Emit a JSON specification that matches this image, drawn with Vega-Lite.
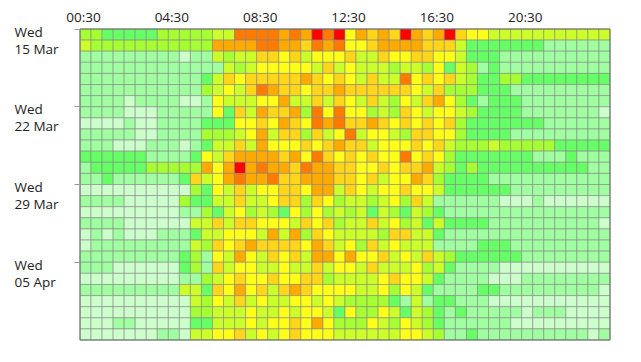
{"$schema":"https://vega.github.io/schema/vega-lite/v6.json","width":530,"height":311,"autosize":"none","padding":{"left":80,"top":29,"right":31,"bottom":22},"background":"white","config":{"font":"Open Sans","view":{"stroke":null}},"layer":[{"data":{"values":[
{"d":0,"t":0,"v":3},{"d":0,"t":1,"v":3},{"d":0,"t":2,"v":2},{"d":0,"t":3,"v":2},{"d":0,"t":4,"v":2},{"d":0,"t":5,"v":2},{"d":0,"t":6,"v":2},{"d":0,"t":7,"v":3},{"d":0,"t":8,"v":3},{"d":0,"t":9,"v":3},{"d":0,"t":10,"v":3},{"d":0,"t":11,"v":3},{"d":0,"t":12,"v":4},{"d":0,"t":13,"v":4},{"d":0,"t":14,"v":8},{"d":0,"t":15,"v":8},{"d":0,"t":16,"v":8},{"d":0,"t":17,"v":8},{"d":0,"t":18,"v":7},{"d":0,"t":19,"v":8},{"d":0,"t":20,"v":7},{"d":0,"t":21,"v":9},{"d":0,"t":22,"v":8},{"d":0,"t":23,"v":9},{"d":0,"t":24,"v":5},{"d":0,"t":25,"v":7},{"d":0,"t":26,"v":6},{"d":0,"t":27,"v":7},{"d":0,"t":28,"v":6},{"d":0,"t":29,"v":9},{"d":0,"t":30,"v":7},{"d":0,"t":31,"v":6},{"d":0,"t":32,"v":7},{"d":0,"t":33,"v":9},{"d":0,"t":34,"v":6},{"d":0,"t":35,"v":5},{"d":0,"t":36,"v":5},{"d":0,"t":37,"v":4},{"d":0,"t":38,"v":4},{"d":0,"t":39,"v":4},{"d":0,"t":40,"v":4},{"d":0,"t":41,"v":4},{"d":0,"t":42,"v":4},{"d":0,"t":43,"v":4},{"d":0,"t":44,"v":4},{"d":0,"t":45,"v":4},{"d":0,"t":46,"v":4},{"d":0,"t":47,"v":4},
{"d":1,"t":0,"v":4},{"d":1,"t":1,"v":3},{"d":1,"t":2,"v":3},{"d":1,"t":3,"v":3},{"d":1,"t":4,"v":3},{"d":1,"t":5,"v":3},{"d":1,"t":6,"v":3},{"d":1,"t":7,"v":3},{"d":1,"t":8,"v":3},{"d":1,"t":9,"v":3},{"d":1,"t":10,"v":3},{"d":1,"t":11,"v":3},{"d":1,"t":12,"v":7},{"d":1,"t":13,"v":7},{"d":1,"t":14,"v":7},{"d":1,"t":15,"v":7},{"d":1,"t":16,"v":8},{"d":1,"t":17,"v":8},{"d":1,"t":18,"v":7},{"d":1,"t":19,"v":7},{"d":1,"t":20,"v":6},{"d":1,"t":21,"v":8},{"d":1,"t":22,"v":7},{"d":1,"t":23,"v":8},{"d":1,"t":24,"v":5},{"d":1,"t":25,"v":5},{"d":1,"t":26,"v":6},{"d":1,"t":27,"v":7},{"d":1,"t":28,"v":7},{"d":1,"t":29,"v":7},{"d":1,"t":30,"v":7},{"d":1,"t":31,"v":6},{"d":1,"t":32,"v":6},{"d":1,"t":33,"v":6},{"d":1,"t":34,"v":4},{"d":1,"t":35,"v":2},{"d":1,"t":36,"v":2},{"d":1,"t":37,"v":2},{"d":1,"t":38,"v":2},{"d":1,"t":39,"v":2},{"d":1,"t":40,"v":2},{"d":1,"t":41,"v":2},{"d":1,"t":42,"v":1},{"d":1,"t":43,"v":1},{"d":1,"t":44,"v":1},{"d":1,"t":45,"v":1},{"d":1,"t":46,"v":1},{"d":1,"t":47,"v":1},
{"d":2,"t":0,"v":1},{"d":2,"t":1,"v":1},{"d":2,"t":2,"v":1},{"d":2,"t":3,"v":1},{"d":2,"t":4,"v":1},{"d":2,"t":5,"v":1},{"d":2,"t":6,"v":1},{"d":2,"t":7,"v":1},{"d":2,"t":8,"v":1},{"d":2,"t":9,"v":0},{"d":2,"t":10,"v":1},{"d":2,"t":11,"v":1},{"d":2,"t":12,"v":4},{"d":2,"t":13,"v":3},{"d":2,"t":14,"v":4},{"d":2,"t":15,"v":4},{"d":2,"t":16,"v":6},{"d":2,"t":17,"v":6},{"d":2,"t":18,"v":5},{"d":2,"t":19,"v":6},{"d":2,"t":20,"v":4},{"d":2,"t":21,"v":5},{"d":2,"t":22,"v":5},{"d":2,"t":23,"v":5},{"d":2,"t":24,"v":6},{"d":2,"t":25,"v":4},{"d":2,"t":26,"v":4},{"d":2,"t":27,"v":6},{"d":2,"t":28,"v":5},{"d":2,"t":29,"v":5},{"d":2,"t":30,"v":6},{"d":2,"t":31,"v":6},{"d":2,"t":32,"v":5},{"d":2,"t":33,"v":5},{"d":2,"t":34,"v":4},{"d":2,"t":35,"v":2},{"d":2,"t":36,"v":2},{"d":2,"t":37,"v":2},{"d":2,"t":38,"v":1},{"d":2,"t":39,"v":1},{"d":2,"t":40,"v":1},{"d":2,"t":41,"v":1},{"d":2,"t":42,"v":1},{"d":2,"t":43,"v":1},{"d":2,"t":44,"v":1},{"d":2,"t":45,"v":1},{"d":2,"t":46,"v":1},{"d":2,"t":47,"v":1},
{"d":3,"t":0,"v":1},{"d":3,"t":1,"v":1},{"d":3,"t":2,"v":1},{"d":3,"t":3,"v":1},{"d":3,"t":4,"v":1},{"d":3,"t":5,"v":1},{"d":3,"t":6,"v":1},{"d":3,"t":7,"v":1},{"d":3,"t":8,"v":1},{"d":3,"t":9,"v":1},{"d":3,"t":10,"v":1},{"d":3,"t":11,"v":1},{"d":3,"t":12,"v":1},{"d":3,"t":13,"v":4},{"d":3,"t":14,"v":3},{"d":3,"t":15,"v":4},{"d":3,"t":16,"v":5},{"d":3,"t":17,"v":5},{"d":3,"t":18,"v":5},{"d":3,"t":19,"v":5},{"d":3,"t":20,"v":5},{"d":3,"t":21,"v":4},{"d":3,"t":22,"v":6},{"d":3,"t":23,"v":4},{"d":3,"t":24,"v":5},{"d":3,"t":25,"v":4},{"d":3,"t":26,"v":4},{"d":3,"t":27,"v":4},{"d":3,"t":28,"v":3},{"d":3,"t":29,"v":4},{"d":3,"t":30,"v":4},{"d":3,"t":31,"v":3},{"d":3,"t":32,"v":5},{"d":3,"t":33,"v":2},{"d":3,"t":34,"v":4},{"d":3,"t":35,"v":3},{"d":3,"t":36,"v":1},{"d":3,"t":37,"v":2},{"d":3,"t":38,"v":1},{"d":3,"t":39,"v":1},{"d":3,"t":40,"v":1},{"d":3,"t":41,"v":1},{"d":3,"t":42,"v":1},{"d":3,"t":43,"v":1},{"d":3,"t":44,"v":1},{"d":3,"t":45,"v":1},{"d":3,"t":46,"v":1},{"d":3,"t":47,"v":1},
{"d":4,"t":0,"v":1},{"d":4,"t":1,"v":1},{"d":4,"t":2,"v":1},{"d":4,"t":3,"v":1},{"d":4,"t":4,"v":1},{"d":4,"t":5,"v":1},{"d":4,"t":6,"v":1},{"d":4,"t":7,"v":1},{"d":4,"t":8,"v":1},{"d":4,"t":9,"v":1},{"d":4,"t":10,"v":1},{"d":4,"t":11,"v":2},{"d":4,"t":12,"v":4},{"d":4,"t":13,"v":6},{"d":4,"t":14,"v":5},{"d":4,"t":15,"v":6},{"d":4,"t":16,"v":6},{"d":4,"t":17,"v":6},{"d":4,"t":18,"v":6},{"d":4,"t":19,"v":6},{"d":4,"t":20,"v":7},{"d":4,"t":21,"v":6},{"d":4,"t":22,"v":5},{"d":4,"t":23,"v":6},{"d":4,"t":24,"v":5},{"d":4,"t":25,"v":4},{"d":4,"t":26,"v":6},{"d":4,"t":27,"v":4},{"d":4,"t":28,"v":4},{"d":4,"t":29,"v":8},{"d":4,"t":30,"v":5},{"d":4,"t":31,"v":6},{"d":4,"t":32,"v":5},{"d":4,"t":33,"v":6},{"d":4,"t":34,"v":4},{"d":4,"t":35,"v":3},{"d":4,"t":36,"v":2},{"d":4,"t":37,"v":2},{"d":4,"t":38,"v":3},{"d":4,"t":39,"v":3},{"d":4,"t":40,"v":2},{"d":4,"t":41,"v":2},{"d":4,"t":42,"v":2},{"d":4,"t":43,"v":2},{"d":4,"t":44,"v":2},{"d":4,"t":45,"v":2},{"d":4,"t":46,"v":2},{"d":4,"t":47,"v":2},
{"d":5,"t":0,"v":1},{"d":5,"t":1,"v":1},{"d":5,"t":2,"v":1},{"d":5,"t":3,"v":1},{"d":5,"t":4,"v":1},{"d":5,"t":5,"v":1},{"d":5,"t":6,"v":1},{"d":5,"t":7,"v":1},{"d":5,"t":8,"v":1},{"d":5,"t":9,"v":1},{"d":5,"t":10,"v":1},{"d":5,"t":11,"v":3},{"d":5,"t":12,"v":4},{"d":5,"t":13,"v":5},{"d":5,"t":14,"v":4},{"d":5,"t":15,"v":6},{"d":5,"t":16,"v":8},{"d":5,"t":17,"v":7},{"d":5,"t":18,"v":6},{"d":5,"t":19,"v":6},{"d":5,"t":20,"v":5},{"d":5,"t":21,"v":6},{"d":5,"t":22,"v":6},{"d":5,"t":23,"v":7},{"d":5,"t":24,"v":6},{"d":5,"t":25,"v":6},{"d":5,"t":26,"v":6},{"d":5,"t":27,"v":6},{"d":5,"t":28,"v":6},{"d":5,"t":29,"v":6},{"d":5,"t":30,"v":5},{"d":5,"t":31,"v":4},{"d":5,"t":32,"v":6},{"d":5,"t":33,"v":3},{"d":5,"t":34,"v":3},{"d":5,"t":35,"v":3},{"d":5,"t":36,"v":2},{"d":5,"t":37,"v":2},{"d":5,"t":38,"v":2},{"d":5,"t":39,"v":1},{"d":5,"t":40,"v":1},{"d":5,"t":41,"v":1},{"d":5,"t":42,"v":1},{"d":5,"t":43,"v":1},{"d":5,"t":44,"v":1},{"d":5,"t":45,"v":1},{"d":5,"t":46,"v":1},{"d":5,"t":47,"v":1},
{"d":6,"t":0,"v":1},{"d":6,"t":1,"v":1},{"d":6,"t":2,"v":1},{"d":6,"t":3,"v":1},{"d":6,"t":4,"v":0},{"d":6,"t":5,"v":1},{"d":6,"t":6,"v":1},{"d":6,"t":7,"v":1},{"d":6,"t":8,"v":1},{"d":6,"t":9,"v":0},{"d":6,"t":10,"v":0},{"d":6,"t":11,"v":1},{"d":6,"t":12,"v":5},{"d":6,"t":13,"v":4},{"d":6,"t":14,"v":4},{"d":6,"t":15,"v":4},{"d":6,"t":16,"v":5},{"d":6,"t":17,"v":5},{"d":6,"t":18,"v":7},{"d":6,"t":19,"v":4},{"d":6,"t":20,"v":4},{"d":6,"t":21,"v":6},{"d":6,"t":22,"v":4},{"d":6,"t":23,"v":6},{"d":6,"t":24,"v":5},{"d":6,"t":25,"v":4},{"d":6,"t":26,"v":6},{"d":6,"t":27,"v":4},{"d":6,"t":28,"v":3},{"d":6,"t":29,"v":5},{"d":6,"t":30,"v":4},{"d":6,"t":31,"v":6},{"d":6,"t":32,"v":7},{"d":6,"t":33,"v":5},{"d":6,"t":34,"v":3},{"d":6,"t":35,"v":2},{"d":6,"t":36,"v":1},{"d":6,"t":37,"v":2},{"d":6,"t":38,"v":2},{"d":6,"t":39,"v":2},{"d":6,"t":40,"v":1},{"d":6,"t":41,"v":1},{"d":6,"t":42,"v":1},{"d":6,"t":43,"v":1},{"d":6,"t":44,"v":1},{"d":6,"t":45,"v":1},{"d":6,"t":46,"v":1},{"d":6,"t":47,"v":1},
{"d":7,"t":0,"v":1},{"d":7,"t":1,"v":1},{"d":7,"t":2,"v":1},{"d":7,"t":3,"v":1},{"d":7,"t":4,"v":0},{"d":7,"t":5,"v":0},{"d":7,"t":6,"v":0},{"d":7,"t":7,"v":1},{"d":7,"t":8,"v":1},{"d":7,"t":9,"v":1},{"d":7,"t":10,"v":1},{"d":7,"t":11,"v":1},{"d":7,"t":12,"v":5},{"d":7,"t":13,"v":2},{"d":7,"t":14,"v":6},{"d":7,"t":15,"v":4},{"d":7,"t":16,"v":7},{"d":7,"t":17,"v":6},{"d":7,"t":18,"v":6},{"d":7,"t":19,"v":7},{"d":7,"t":20,"v":3},{"d":7,"t":21,"v":8},{"d":7,"t":22,"v":5},{"d":7,"t":23,"v":8},{"d":7,"t":24,"v":5},{"d":7,"t":25,"v":5},{"d":7,"t":26,"v":3},{"d":7,"t":27,"v":4},{"d":7,"t":28,"v":3},{"d":7,"t":29,"v":6},{"d":7,"t":30,"v":5},{"d":7,"t":31,"v":4},{"d":7,"t":32,"v":5},{"d":7,"t":33,"v":5},{"d":7,"t":34,"v":4},{"d":7,"t":35,"v":3},{"d":7,"t":36,"v":2},{"d":7,"t":37,"v":2},{"d":7,"t":38,"v":2},{"d":7,"t":39,"v":2},{"d":7,"t":40,"v":1},{"d":7,"t":41,"v":1},{"d":7,"t":42,"v":1},{"d":7,"t":43,"v":1},{"d":7,"t":44,"v":1},{"d":7,"t":45,"v":1},{"d":7,"t":46,"v":1},{"d":7,"t":47,"v":0},
{"d":8,"t":0,"v":0},{"d":8,"t":1,"v":0},{"d":8,"t":2,"v":0},{"d":8,"t":3,"v":0},{"d":8,"t":4,"v":1},{"d":8,"t":5,"v":0},{"d":8,"t":6,"v":0},{"d":8,"t":7,"v":1},{"d":8,"t":8,"v":1},{"d":8,"t":9,"v":1},{"d":8,"t":10,"v":1},{"d":8,"t":11,"v":2},{"d":8,"t":12,"v":2},{"d":8,"t":13,"v":2},{"d":8,"t":14,"v":5},{"d":8,"t":15,"v":5},{"d":8,"t":16,"v":6},{"d":8,"t":17,"v":5},{"d":8,"t":18,"v":7},{"d":8,"t":19,"v":6},{"d":8,"t":20,"v":5},{"d":8,"t":21,"v":8},{"d":8,"t":22,"v":7},{"d":8,"t":23,"v":8},{"d":8,"t":24,"v":6},{"d":8,"t":25,"v":6},{"d":8,"t":26,"v":7},{"d":8,"t":27,"v":6},{"d":8,"t":28,"v":5},{"d":8,"t":29,"v":6},{"d":8,"t":30,"v":5},{"d":8,"t":31,"v":6},{"d":8,"t":32,"v":5},{"d":8,"t":33,"v":6},{"d":8,"t":34,"v":3},{"d":8,"t":35,"v":2},{"d":8,"t":36,"v":2},{"d":8,"t":37,"v":2},{"d":8,"t":38,"v":2},{"d":8,"t":39,"v":2},{"d":8,"t":40,"v":2},{"d":8,"t":41,"v":2},{"d":8,"t":42,"v":1},{"d":8,"t":43,"v":1},{"d":8,"t":44,"v":1},{"d":8,"t":45,"v":1},{"d":8,"t":46,"v":1},{"d":8,"t":47,"v":1},
{"d":9,"t":0,"v":1},{"d":9,"t":1,"v":1},{"d":9,"t":2,"v":1},{"d":9,"t":3,"v":1},{"d":9,"t":4,"v":1},{"d":9,"t":5,"v":0},{"d":9,"t":6,"v":0},{"d":9,"t":7,"v":1},{"d":9,"t":8,"v":1},{"d":9,"t":9,"v":1},{"d":9,"t":10,"v":1},{"d":9,"t":11,"v":3},{"d":9,"t":12,"v":3},{"d":9,"t":13,"v":3},{"d":9,"t":14,"v":4},{"d":9,"t":15,"v":5},{"d":9,"t":16,"v":7},{"d":9,"t":17,"v":4},{"d":9,"t":18,"v":6},{"d":9,"t":19,"v":6},{"d":9,"t":20,"v":3},{"d":9,"t":21,"v":6},{"d":9,"t":22,"v":4},{"d":9,"t":23,"v":5},{"d":9,"t":24,"v":8},{"d":9,"t":25,"v":4},{"d":9,"t":26,"v":5},{"d":9,"t":27,"v":5},{"d":9,"t":28,"v":4},{"d":9,"t":29,"v":3},{"d":9,"t":30,"v":6},{"d":9,"t":31,"v":6},{"d":9,"t":32,"v":5},{"d":9,"t":33,"v":5},{"d":9,"t":34,"v":3},{"d":9,"t":35,"v":2},{"d":9,"t":36,"v":2},{"d":9,"t":37,"v":2},{"d":9,"t":38,"v":2},{"d":9,"t":39,"v":1},{"d":9,"t":40,"v":1},{"d":9,"t":41,"v":1},{"d":9,"t":42,"v":1},{"d":9,"t":43,"v":1},{"d":9,"t":44,"v":1},{"d":9,"t":45,"v":1},{"d":9,"t":46,"v":1},{"d":9,"t":47,"v":1},
{"d":10,"t":0,"v":1},{"d":10,"t":1,"v":1},{"d":10,"t":2,"v":1},{"d":10,"t":3,"v":0},{"d":10,"t":4,"v":0},{"d":10,"t":5,"v":0},{"d":10,"t":6,"v":1},{"d":10,"t":7,"v":1},{"d":10,"t":8,"v":1},{"d":10,"t":9,"v":0},{"d":10,"t":10,"v":1},{"d":10,"t":11,"v":2},{"d":10,"t":12,"v":4},{"d":10,"t":13,"v":4},{"d":10,"t":14,"v":6},{"d":10,"t":15,"v":4},{"d":10,"t":16,"v":7},{"d":10,"t":17,"v":5},{"d":10,"t":18,"v":5},{"d":10,"t":19,"v":5},{"d":10,"t":20,"v":6},{"d":10,"t":21,"v":5},{"d":10,"t":22,"v":6},{"d":10,"t":23,"v":7},{"d":10,"t":24,"v":6},{"d":10,"t":25,"v":6},{"d":10,"t":26,"v":4},{"d":10,"t":27,"v":5},{"d":10,"t":28,"v":5},{"d":10,"t":29,"v":5},{"d":10,"t":30,"v":6},{"d":10,"t":31,"v":5},{"d":10,"t":32,"v":6},{"d":10,"t":33,"v":4},{"d":10,"t":34,"v":3},{"d":10,"t":35,"v":3},{"d":10,"t":36,"v":3},{"d":10,"t":37,"v":4},{"d":10,"t":38,"v":3},{"d":10,"t":39,"v":3},{"d":10,"t":40,"v":3},{"d":10,"t":41,"v":3},{"d":10,"t":42,"v":3},{"d":10,"t":43,"v":2},{"d":10,"t":44,"v":2},{"d":10,"t":45,"v":2},{"d":10,"t":46,"v":2},{"d":10,"t":47,"v":2},
{"d":11,"t":0,"v":2},{"d":11,"t":1,"v":2},{"d":11,"t":2,"v":2},{"d":11,"t":3,"v":2},{"d":11,"t":4,"v":2},{"d":11,"t":5,"v":2},{"d":11,"t":6,"v":1},{"d":11,"t":7,"v":1},{"d":11,"t":8,"v":1},{"d":11,"t":9,"v":1},{"d":11,"t":10,"v":2},{"d":11,"t":11,"v":5},{"d":11,"t":12,"v":4},{"d":11,"t":13,"v":6},{"d":11,"t":14,"v":7},{"d":11,"t":15,"v":7},{"d":11,"t":16,"v":7},{"d":11,"t":17,"v":7},{"d":11,"t":18,"v":6},{"d":11,"t":19,"v":7},{"d":11,"t":20,"v":5},{"d":11,"t":21,"v":8},{"d":11,"t":22,"v":6},{"d":11,"t":23,"v":5},{"d":11,"t":24,"v":6},{"d":11,"t":25,"v":5},{"d":11,"t":26,"v":6},{"d":11,"t":27,"v":5},{"d":11,"t":28,"v":5},{"d":11,"t":29,"v":8},{"d":11,"t":30,"v":5},{"d":11,"t":31,"v":6},{"d":11,"t":32,"v":5},{"d":11,"t":33,"v":3},{"d":11,"t":34,"v":2},{"d":11,"t":35,"v":2},{"d":11,"t":36,"v":2},{"d":11,"t":37,"v":2},{"d":11,"t":38,"v":2},{"d":11,"t":39,"v":2},{"d":11,"t":40,"v":2},{"d":11,"t":41,"v":1},{"d":11,"t":42,"v":1},{"d":11,"t":43,"v":1},{"d":11,"t":44,"v":2},{"d":11,"t":45,"v":1},{"d":11,"t":46,"v":1},{"d":11,"t":47,"v":1},
{"d":12,"t":0,"v":1},{"d":12,"t":1,"v":2},{"d":12,"t":2,"v":2},{"d":12,"t":3,"v":2},{"d":12,"t":4,"v":2},{"d":12,"t":5,"v":2},{"d":12,"t":6,"v":3},{"d":12,"t":7,"v":3},{"d":12,"t":8,"v":3},{"d":12,"t":9,"v":3},{"d":12,"t":10,"v":3},{"d":12,"t":11,"v":7},{"d":12,"t":12,"v":5},{"d":12,"t":13,"v":7},{"d":12,"t":14,"v":9},{"d":12,"t":15,"v":7},{"d":12,"t":16,"v":8},{"d":12,"t":17,"v":7},{"d":12,"t":18,"v":7},{"d":12,"t":19,"v":6},{"d":12,"t":20,"v":8},{"d":12,"t":21,"v":7},{"d":12,"t":22,"v":7},{"d":12,"t":23,"v":6},{"d":12,"t":24,"v":6},{"d":12,"t":25,"v":5},{"d":12,"t":26,"v":5},{"d":12,"t":27,"v":6},{"d":12,"t":28,"v":5},{"d":12,"t":29,"v":6},{"d":12,"t":30,"v":6},{"d":12,"t":31,"v":7},{"d":12,"t":32,"v":4},{"d":12,"t":33,"v":3},{"d":12,"t":34,"v":2},{"d":12,"t":35,"v":3},{"d":12,"t":36,"v":2},{"d":12,"t":37,"v":2},{"d":12,"t":38,"v":2},{"d":12,"t":39,"v":2},{"d":12,"t":40,"v":2},{"d":12,"t":41,"v":2},{"d":12,"t":42,"v":2},{"d":12,"t":43,"v":2},{"d":12,"t":44,"v":2},{"d":12,"t":45,"v":2},{"d":12,"t":46,"v":1},{"d":12,"t":47,"v":1},
{"d":13,"t":0,"v":1},{"d":13,"t":1,"v":1},{"d":13,"t":2,"v":2},{"d":13,"t":3,"v":1},{"d":13,"t":4,"v":1},{"d":13,"t":5,"v":1},{"d":13,"t":6,"v":1},{"d":13,"t":7,"v":1},{"d":13,"t":8,"v":1},{"d":13,"t":9,"v":2},{"d":13,"t":10,"v":6},{"d":13,"t":11,"v":4},{"d":13,"t":12,"v":5},{"d":13,"t":13,"v":7},{"d":13,"t":14,"v":8},{"d":13,"t":15,"v":7},{"d":13,"t":16,"v":7},{"d":13,"t":17,"v":8},{"d":13,"t":18,"v":6},{"d":13,"t":19,"v":6},{"d":13,"t":20,"v":7},{"d":13,"t":21,"v":7},{"d":13,"t":22,"v":7},{"d":13,"t":23,"v":6},{"d":13,"t":24,"v":6},{"d":13,"t":25,"v":5},{"d":13,"t":26,"v":6},{"d":13,"t":27,"v":4},{"d":13,"t":28,"v":5},{"d":13,"t":29,"v":5},{"d":13,"t":30,"v":7},{"d":13,"t":31,"v":6},{"d":13,"t":32,"v":3},{"d":13,"t":33,"v":2},{"d":13,"t":34,"v":2},{"d":13,"t":35,"v":2},{"d":13,"t":36,"v":2},{"d":13,"t":37,"v":1},{"d":13,"t":38,"v":1},{"d":13,"t":39,"v":1},{"d":13,"t":40,"v":1},{"d":13,"t":41,"v":1},{"d":13,"t":42,"v":1},{"d":13,"t":43,"v":1},{"d":13,"t":44,"v":1},{"d":13,"t":45,"v":1},{"d":13,"t":46,"v":1},{"d":13,"t":47,"v":1},
{"d":14,"t":0,"v":0},{"d":14,"t":1,"v":0},{"d":14,"t":2,"v":0},{"d":14,"t":3,"v":0},{"d":14,"t":4,"v":0},{"d":14,"t":5,"v":0},{"d":14,"t":6,"v":0},{"d":14,"t":7,"v":0},{"d":14,"t":8,"v":0},{"d":14,"t":9,"v":0},{"d":14,"t":10,"v":3},{"d":14,"t":11,"v":2},{"d":14,"t":12,"v":5},{"d":14,"t":13,"v":4},{"d":14,"t":14,"v":6},{"d":14,"t":15,"v":4},{"d":14,"t":16,"v":5},{"d":14,"t":17,"v":5},{"d":14,"t":18,"v":6},{"d":14,"t":19,"v":6},{"d":14,"t":20,"v":5},{"d":14,"t":21,"v":7},{"d":14,"t":22,"v":7},{"d":14,"t":23,"v":4},{"d":14,"t":24,"v":6},{"d":14,"t":25,"v":5},{"d":14,"t":26,"v":4},{"d":14,"t":27,"v":5},{"d":14,"t":28,"v":5},{"d":14,"t":29,"v":6},{"d":14,"t":30,"v":5},{"d":14,"t":31,"v":5},{"d":14,"t":32,"v":4},{"d":14,"t":33,"v":2},{"d":14,"t":34,"v":2},{"d":14,"t":35,"v":2},{"d":14,"t":36,"v":2},{"d":14,"t":37,"v":2},{"d":14,"t":38,"v":2},{"d":14,"t":39,"v":1},{"d":14,"t":40,"v":1},{"d":14,"t":41,"v":1},{"d":14,"t":42,"v":1},{"d":14,"t":43,"v":1},{"d":14,"t":44,"v":1},{"d":14,"t":45,"v":1},{"d":14,"t":46,"v":1},{"d":14,"t":47,"v":1},
{"d":15,"t":0,"v":1},{"d":15,"t":1,"v":1},{"d":15,"t":2,"v":1},{"d":15,"t":3,"v":1},{"d":15,"t":4,"v":0},{"d":15,"t":5,"v":0},{"d":15,"t":6,"v":0},{"d":15,"t":7,"v":0},{"d":15,"t":8,"v":0},{"d":15,"t":9,"v":3},{"d":15,"t":10,"v":2},{"d":15,"t":11,"v":2},{"d":15,"t":12,"v":4},{"d":15,"t":13,"v":4},{"d":15,"t":14,"v":6},{"d":15,"t":15,"v":4},{"d":15,"t":16,"v":4},{"d":15,"t":17,"v":5},{"d":15,"t":18,"v":6},{"d":15,"t":19,"v":6},{"d":15,"t":20,"v":3},{"d":15,"t":21,"v":6},{"d":15,"t":22,"v":5},{"d":15,"t":23,"v":3},{"d":15,"t":24,"v":4},{"d":15,"t":25,"v":4},{"d":15,"t":26,"v":3},{"d":15,"t":27,"v":4},{"d":15,"t":28,"v":5},{"d":15,"t":29,"v":3},{"d":15,"t":30,"v":6},{"d":15,"t":31,"v":4},{"d":15,"t":32,"v":1},{"d":15,"t":33,"v":1},{"d":15,"t":34,"v":1},{"d":15,"t":35,"v":1},{"d":15,"t":36,"v":1},{"d":15,"t":37,"v":1},{"d":15,"t":38,"v":0},{"d":15,"t":39,"v":0},{"d":15,"t":40,"v":0},{"d":15,"t":41,"v":1},{"d":15,"t":42,"v":0},{"d":15,"t":43,"v":0},{"d":15,"t":44,"v":0},{"d":15,"t":45,"v":0},{"d":15,"t":46,"v":0},{"d":15,"t":47,"v":0},
{"d":16,"t":0,"v":0},{"d":16,"t":1,"v":0},{"d":16,"t":2,"v":0},{"d":16,"t":3,"v":0},{"d":16,"t":4,"v":0},{"d":16,"t":5,"v":0},{"d":16,"t":6,"v":0},{"d":16,"t":7,"v":0},{"d":16,"t":8,"v":0},{"d":16,"t":9,"v":1},{"d":16,"t":10,"v":1},{"d":16,"t":11,"v":3},{"d":16,"t":12,"v":2},{"d":16,"t":13,"v":4},{"d":16,"t":14,"v":5},{"d":16,"t":15,"v":3},{"d":16,"t":16,"v":4},{"d":16,"t":17,"v":3},{"d":16,"t":18,"v":2},{"d":16,"t":19,"v":5},{"d":16,"t":20,"v":3},{"d":16,"t":21,"v":5},{"d":16,"t":22,"v":3},{"d":16,"t":23,"v":4},{"d":16,"t":24,"v":3},{"d":16,"t":25,"v":4},{"d":16,"t":26,"v":2},{"d":16,"t":27,"v":4},{"d":16,"t":28,"v":3},{"d":16,"t":29,"v":2},{"d":16,"t":30,"v":4},{"d":16,"t":31,"v":3},{"d":16,"t":32,"v":2},{"d":16,"t":33,"v":1},{"d":16,"t":34,"v":1},{"d":16,"t":35,"v":1},{"d":16,"t":36,"v":1},{"d":16,"t":37,"v":1},{"d":16,"t":38,"v":1},{"d":16,"t":39,"v":1},{"d":16,"t":40,"v":1},{"d":16,"t":41,"v":1},{"d":16,"t":42,"v":1},{"d":16,"t":43,"v":1},{"d":16,"t":44,"v":1},{"d":16,"t":45,"v":1},{"d":16,"t":46,"v":1},{"d":16,"t":47,"v":1},
{"d":17,"t":0,"v":1},{"d":17,"t":1,"v":1},{"d":17,"t":2,"v":1},{"d":17,"t":3,"v":1},{"d":17,"t":4,"v":0},{"d":17,"t":5,"v":0},{"d":17,"t":6,"v":0},{"d":17,"t":7,"v":0},{"d":17,"t":8,"v":0},{"d":17,"t":9,"v":0},{"d":17,"t":10,"v":4},{"d":17,"t":11,"v":4},{"d":17,"t":12,"v":6},{"d":17,"t":13,"v":4},{"d":17,"t":14,"v":6},{"d":17,"t":15,"v":6},{"d":17,"t":16,"v":5},{"d":17,"t":17,"v":5},{"d":17,"t":18,"v":5},{"d":17,"t":19,"v":4},{"d":17,"t":20,"v":6},{"d":17,"t":21,"v":5},{"d":17,"t":22,"v":6},{"d":17,"t":23,"v":3},{"d":17,"t":24,"v":4},{"d":17,"t":25,"v":4},{"d":17,"t":26,"v":6},{"d":17,"t":27,"v":4},{"d":17,"t":28,"v":5},{"d":17,"t":29,"v":3},{"d":17,"t":30,"v":4},{"d":17,"t":31,"v":2},{"d":17,"t":32,"v":4},{"d":17,"t":33,"v":2},{"d":17,"t":34,"v":2},{"d":17,"t":35,"v":2},{"d":17,"t":36,"v":2},{"d":17,"t":37,"v":1},{"d":17,"t":38,"v":1},{"d":17,"t":39,"v":1},{"d":17,"t":40,"v":1},{"d":17,"t":41,"v":1},{"d":17,"t":42,"v":1},{"d":17,"t":43,"v":1},{"d":17,"t":44,"v":1},{"d":17,"t":45,"v":1},{"d":17,"t":46,"v":1},{"d":17,"t":47,"v":0},
{"d":18,"t":0,"v":0},{"d":18,"t":1,"v":1},{"d":18,"t":2,"v":0},{"d":18,"t":3,"v":1},{"d":18,"t":4,"v":0},{"d":18,"t":5,"v":0},{"d":18,"t":6,"v":0},{"d":18,"t":7,"v":1},{"d":18,"t":8,"v":1},{"d":18,"t":9,"v":1},{"d":18,"t":10,"v":2},{"d":18,"t":11,"v":4},{"d":18,"t":12,"v":4},{"d":18,"t":13,"v":5},{"d":18,"t":14,"v":5},{"d":18,"t":15,"v":5},{"d":18,"t":16,"v":4},{"d":18,"t":17,"v":7},{"d":18,"t":18,"v":4},{"d":18,"t":19,"v":7},{"d":18,"t":20,"v":3},{"d":18,"t":21,"v":6},{"d":18,"t":22,"v":5},{"d":18,"t":23,"v":4},{"d":18,"t":24,"v":4},{"d":18,"t":25,"v":4},{"d":18,"t":26,"v":4},{"d":18,"t":27,"v":3},{"d":18,"t":28,"v":6},{"d":18,"t":29,"v":6},{"d":18,"t":30,"v":4},{"d":18,"t":31,"v":4},{"d":18,"t":32,"v":2},{"d":18,"t":33,"v":1},{"d":18,"t":34,"v":1},{"d":18,"t":35,"v":1},{"d":18,"t":36,"v":1},{"d":18,"t":37,"v":1},{"d":18,"t":38,"v":1},{"d":18,"t":39,"v":1},{"d":18,"t":40,"v":1},{"d":18,"t":41,"v":1},{"d":18,"t":42,"v":1},{"d":18,"t":43,"v":1},{"d":18,"t":44,"v":1},{"d":18,"t":45,"v":1},{"d":18,"t":46,"v":1},{"d":18,"t":47,"v":1},
{"d":19,"t":0,"v":0},{"d":19,"t":1,"v":1},{"d":19,"t":2,"v":1},{"d":19,"t":3,"v":1},{"d":19,"t":4,"v":1},{"d":19,"t":5,"v":1},{"d":19,"t":6,"v":1},{"d":19,"t":7,"v":1},{"d":19,"t":8,"v":1},{"d":19,"t":9,"v":1},{"d":19,"t":10,"v":4},{"d":19,"t":11,"v":3},{"d":19,"t":12,"v":6},{"d":19,"t":13,"v":5},{"d":19,"t":14,"v":6},{"d":19,"t":15,"v":7},{"d":19,"t":16,"v":6},{"d":19,"t":17,"v":6},{"d":19,"t":18,"v":6},{"d":19,"t":19,"v":6},{"d":19,"t":20,"v":5},{"d":19,"t":21,"v":7},{"d":19,"t":22,"v":6},{"d":19,"t":23,"v":4},{"d":19,"t":24,"v":5},{"d":19,"t":25,"v":3},{"d":19,"t":26,"v":6},{"d":19,"t":27,"v":4},{"d":19,"t":28,"v":5},{"d":19,"t":29,"v":4},{"d":19,"t":30,"v":4},{"d":19,"t":31,"v":4},{"d":19,"t":32,"v":1},{"d":19,"t":33,"v":1},{"d":19,"t":34,"v":1},{"d":19,"t":35,"v":1},{"d":19,"t":36,"v":2},{"d":19,"t":37,"v":2},{"d":19,"t":38,"v":2},{"d":19,"t":39,"v":1},{"d":19,"t":40,"v":1},{"d":19,"t":41,"v":1},{"d":19,"t":42,"v":1},{"d":19,"t":43,"v":1},{"d":19,"t":44,"v":1},{"d":19,"t":45,"v":1},{"d":19,"t":46,"v":1},{"d":19,"t":47,"v":1},
{"d":20,"t":0,"v":1},{"d":20,"t":1,"v":1},{"d":20,"t":2,"v":1},{"d":20,"t":3,"v":1},{"d":20,"t":4,"v":1},{"d":20,"t":5,"v":1},{"d":20,"t":6,"v":1},{"d":20,"t":7,"v":1},{"d":20,"t":8,"v":1},{"d":20,"t":9,"v":2},{"d":20,"t":10,"v":3},{"d":20,"t":11,"v":1},{"d":20,"t":12,"v":5},{"d":20,"t":13,"v":4},{"d":20,"t":14,"v":7},{"d":20,"t":15,"v":5},{"d":20,"t":16,"v":4},{"d":20,"t":17,"v":6},{"d":20,"t":18,"v":5},{"d":20,"t":19,"v":6},{"d":20,"t":20,"v":4},{"d":20,"t":21,"v":7},{"d":20,"t":22,"v":7},{"d":20,"t":23,"v":5},{"d":20,"t":24,"v":7},{"d":20,"t":25,"v":5},{"d":20,"t":26,"v":5},{"d":20,"t":27,"v":6},{"d":20,"t":28,"v":4},{"d":20,"t":29,"v":5},{"d":20,"t":30,"v":4},{"d":20,"t":31,"v":6},{"d":20,"t":32,"v":4},{"d":20,"t":33,"v":3},{"d":20,"t":34,"v":2},{"d":20,"t":35,"v":2},{"d":20,"t":36,"v":2},{"d":20,"t":37,"v":2},{"d":20,"t":38,"v":2},{"d":20,"t":39,"v":2},{"d":20,"t":40,"v":1},{"d":20,"t":41,"v":1},{"d":20,"t":42,"v":1},{"d":20,"t":43,"v":1},{"d":20,"t":44,"v":1},{"d":20,"t":45,"v":1},{"d":20,"t":46,"v":1},{"d":20,"t":47,"v":1},
{"d":21,"t":0,"v":1},{"d":21,"t":1,"v":1},{"d":21,"t":2,"v":1},{"d":21,"t":3,"v":0},{"d":21,"t":4,"v":0},{"d":21,"t":5,"v":0},{"d":21,"t":6,"v":0},{"d":21,"t":7,"v":0},{"d":21,"t":8,"v":0},{"d":21,"t":9,"v":2},{"d":21,"t":10,"v":3},{"d":21,"t":11,"v":1},{"d":21,"t":12,"v":6},{"d":21,"t":13,"v":4},{"d":21,"t":14,"v":5},{"d":21,"t":15,"v":5},{"d":21,"t":16,"v":4},{"d":21,"t":17,"v":4},{"d":21,"t":18,"v":5},{"d":21,"t":19,"v":4},{"d":21,"t":20,"v":4},{"d":21,"t":21,"v":6},{"d":21,"t":22,"v":4},{"d":21,"t":23,"v":5},{"d":21,"t":24,"v":5},{"d":21,"t":25,"v":4},{"d":21,"t":26,"v":6},{"d":21,"t":27,"v":4},{"d":21,"t":28,"v":4},{"d":21,"t":29,"v":4},{"d":21,"t":30,"v":5},{"d":21,"t":31,"v":3},{"d":21,"t":32,"v":4},{"d":21,"t":33,"v":2},{"d":21,"t":34,"v":1},{"d":21,"t":35,"v":1},{"d":21,"t":36,"v":1},{"d":21,"t":37,"v":1},{"d":21,"t":38,"v":0},{"d":21,"t":39,"v":0},{"d":21,"t":40,"v":0},{"d":21,"t":41,"v":0},{"d":21,"t":42,"v":0},{"d":21,"t":43,"v":0},{"d":21,"t":44,"v":0},{"d":21,"t":45,"v":0},{"d":21,"t":46,"v":0},{"d":21,"t":47,"v":0},
{"d":22,"t":0,"v":0},{"d":22,"t":1,"v":0},{"d":22,"t":2,"v":0},{"d":22,"t":3,"v":0},{"d":22,"t":4,"v":0},{"d":22,"t":5,"v":0},{"d":22,"t":6,"v":0},{"d":22,"t":7,"v":0},{"d":22,"t":8,"v":0},{"d":22,"t":9,"v":1},{"d":22,"t":10,"v":1},{"d":22,"t":11,"v":3},{"d":22,"t":12,"v":4},{"d":22,"t":13,"v":5},{"d":22,"t":14,"v":6},{"d":22,"t":15,"v":5},{"d":22,"t":16,"v":5},{"d":22,"t":17,"v":6},{"d":22,"t":18,"v":5},{"d":22,"t":19,"v":5},{"d":22,"t":20,"v":6},{"d":22,"t":21,"v":6},{"d":22,"t":22,"v":3},{"d":22,"t":23,"v":4},{"d":22,"t":24,"v":4},{"d":22,"t":25,"v":4},{"d":22,"t":26,"v":4},{"d":22,"t":27,"v":5},{"d":22,"t":28,"v":6},{"d":22,"t":29,"v":5},{"d":22,"t":30,"v":5},{"d":22,"t":31,"v":4},{"d":22,"t":32,"v":2},{"d":22,"t":33,"v":1},{"d":22,"t":34,"v":1},{"d":22,"t":35,"v":1},{"d":22,"t":36,"v":1},{"d":22,"t":37,"v":0},{"d":22,"t":38,"v":0},{"d":22,"t":39,"v":0},{"d":22,"t":40,"v":1},{"d":22,"t":41,"v":1},{"d":22,"t":42,"v":1},{"d":22,"t":43,"v":1},{"d":22,"t":44,"v":1},{"d":22,"t":45,"v":1},{"d":22,"t":46,"v":1},{"d":22,"t":47,"v":1},
{"d":23,"t":0,"v":1},{"d":23,"t":1,"v":1},{"d":23,"t":2,"v":1},{"d":23,"t":3,"v":1},{"d":23,"t":4,"v":1},{"d":23,"t":5,"v":1},{"d":23,"t":6,"v":1},{"d":23,"t":7,"v":1},{"d":23,"t":8,"v":1},{"d":23,"t":9,"v":4},{"d":23,"t":10,"v":4},{"d":23,"t":11,"v":2},{"d":23,"t":12,"v":6},{"d":23,"t":13,"v":5},{"d":23,"t":14,"v":7},{"d":23,"t":15,"v":5},{"d":23,"t":16,"v":6},{"d":23,"t":17,"v":4},{"d":23,"t":18,"v":6},{"d":23,"t":19,"v":7},{"d":23,"t":20,"v":6},{"d":23,"t":21,"v":5},{"d":23,"t":22,"v":5},{"d":23,"t":23,"v":5},{"d":23,"t":24,"v":5},{"d":23,"t":25,"v":4},{"d":23,"t":26,"v":4},{"d":23,"t":27,"v":5},{"d":23,"t":28,"v":3},{"d":23,"t":29,"v":5},{"d":23,"t":30,"v":4},{"d":23,"t":31,"v":2},{"d":23,"t":32,"v":1},{"d":23,"t":33,"v":1},{"d":23,"t":34,"v":1},{"d":23,"t":35,"v":1},{"d":23,"t":36,"v":2},{"d":23,"t":37,"v":2},{"d":23,"t":38,"v":1},{"d":23,"t":39,"v":1},{"d":23,"t":40,"v":1},{"d":23,"t":41,"v":1},{"d":23,"t":42,"v":1},{"d":23,"t":43,"v":1},{"d":23,"t":44,"v":1},{"d":23,"t":45,"v":1},{"d":23,"t":46,"v":1},{"d":23,"t":47,"v":0},
{"d":24,"t":0,"v":0},{"d":24,"t":1,"v":0},{"d":24,"t":2,"v":0},{"d":24,"t":3,"v":0},{"d":24,"t":4,"v":0},{"d":24,"t":5,"v":0},{"d":24,"t":6,"v":0},{"d":24,"t":7,"v":0},{"d":24,"t":8,"v":0},{"d":24,"t":9,"v":0},{"d":24,"t":10,"v":4},{"d":24,"t":11,"v":3},{"d":24,"t":12,"v":5},{"d":24,"t":13,"v":4},{"d":24,"t":14,"v":6},{"d":24,"t":15,"v":4},{"d":24,"t":16,"v":5},{"d":24,"t":17,"v":4},{"d":24,"t":18,"v":4},{"d":24,"t":19,"v":5},{"d":24,"t":20,"v":5},{"d":24,"t":21,"v":4},{"d":24,"t":22,"v":5},{"d":24,"t":23,"v":4},{"d":24,"t":24,"v":3},{"d":24,"t":25,"v":3},{"d":24,"t":26,"v":3},{"d":24,"t":27,"v":3},{"d":24,"t":28,"v":2},{"d":24,"t":29,"v":1},{"d":24,"t":30,"v":4},{"d":24,"t":31,"v":1},{"d":24,"t":32,"v":2},{"d":24,"t":33,"v":2},{"d":24,"t":34,"v":1},{"d":24,"t":35,"v":1},{"d":24,"t":36,"v":1},{"d":24,"t":37,"v":0},{"d":24,"t":38,"v":0},{"d":24,"t":39,"v":0},{"d":24,"t":40,"v":0},{"d":24,"t":41,"v":0},{"d":24,"t":42,"v":0},{"d":24,"t":43,"v":0},{"d":24,"t":44,"v":0},{"d":24,"t":45,"v":0},{"d":24,"t":46,"v":0},{"d":24,"t":47,"v":0},
{"d":25,"t":0,"v":0},{"d":25,"t":1,"v":0},{"d":25,"t":2,"v":0},{"d":25,"t":3,"v":0},{"d":25,"t":4,"v":0},{"d":25,"t":5,"v":0},{"d":25,"t":6,"v":0},{"d":25,"t":7,"v":0},{"d":25,"t":8,"v":0},{"d":25,"t":9,"v":0},{"d":25,"t":10,"v":3},{"d":25,"t":11,"v":3},{"d":25,"t":12,"v":4},{"d":25,"t":13,"v":4},{"d":25,"t":14,"v":4},{"d":25,"t":15,"v":5},{"d":25,"t":16,"v":4},{"d":25,"t":17,"v":4},{"d":25,"t":18,"v":5},{"d":25,"t":19,"v":4},{"d":25,"t":20,"v":5},{"d":25,"t":21,"v":5},{"d":25,"t":22,"v":4},{"d":25,"t":23,"v":2},{"d":25,"t":24,"v":5},{"d":25,"t":25,"v":3},{"d":25,"t":26,"v":3},{"d":25,"t":27,"v":5},{"d":25,"t":28,"v":4},{"d":25,"t":29,"v":2},{"d":25,"t":30,"v":4},{"d":25,"t":31,"v":3},{"d":25,"t":32,"v":2},{"d":25,"t":33,"v":1},{"d":25,"t":34,"v":2},{"d":25,"t":35,"v":1},{"d":25,"t":36,"v":1},{"d":25,"t":37,"v":1},{"d":25,"t":38,"v":1},{"d":25,"t":39,"v":1},{"d":25,"t":40,"v":0},{"d":25,"t":41,"v":1},{"d":25,"t":42,"v":1},{"d":25,"t":43,"v":1},{"d":25,"t":44,"v":0},{"d":25,"t":45,"v":0},{"d":25,"t":46,"v":0},{"d":25,"t":47,"v":0},
{"d":26,"t":0,"v":0},{"d":26,"t":1,"v":0},{"d":26,"t":2,"v":0},{"d":26,"t":3,"v":1},{"d":26,"t":4,"v":1},{"d":26,"t":5,"v":0},{"d":26,"t":6,"v":0},{"d":26,"t":7,"v":0},{"d":26,"t":8,"v":0},{"d":26,"t":9,"v":0},{"d":26,"t":10,"v":2},{"d":26,"t":11,"v":2},{"d":26,"t":12,"v":4},{"d":26,"t":13,"v":4},{"d":26,"t":14,"v":4},{"d":26,"t":15,"v":5},{"d":26,"t":16,"v":4},{"d":26,"t":17,"v":5},{"d":26,"t":18,"v":5},{"d":26,"t":19,"v":6},{"d":26,"t":20,"v":5},{"d":26,"t":21,"v":7},{"d":26,"t":22,"v":5},{"d":26,"t":23,"v":3},{"d":26,"t":24,"v":3},{"d":26,"t":25,"v":3},{"d":26,"t":26,"v":5},{"d":26,"t":27,"v":4},{"d":26,"t":28,"v":3},{"d":26,"t":29,"v":5},{"d":26,"t":30,"v":4},{"d":26,"t":31,"v":3},{"d":26,"t":32,"v":2},{"d":26,"t":33,"v":1},{"d":26,"t":34,"v":1},{"d":26,"t":35,"v":1},{"d":26,"t":36,"v":1},{"d":26,"t":37,"v":1},{"d":26,"t":38,"v":1},{"d":26,"t":39,"v":0},{"d":26,"t":40,"v":0},{"d":26,"t":41,"v":0},{"d":26,"t":42,"v":0},{"d":26,"t":43,"v":0},{"d":26,"t":44,"v":0},{"d":26,"t":45,"v":0},{"d":26,"t":46,"v":0},{"d":26,"t":47,"v":0},
{"d":27,"t":0,"v":0},{"d":27,"t":1,"v":0},{"d":27,"t":2,"v":0},{"d":27,"t":3,"v":0},{"d":27,"t":4,"v":0},{"d":27,"t":5,"v":0},{"d":27,"t":6,"v":0},{"d":27,"t":7,"v":1},{"d":27,"t":8,"v":1},{"d":27,"t":9,"v":0},{"d":27,"t":10,"v":4},{"d":27,"t":11,"v":4},{"d":27,"t":12,"v":5},{"d":27,"t":13,"v":5},{"d":27,"t":14,"v":6},{"d":27,"t":15,"v":4},{"d":27,"t":16,"v":5},{"d":27,"t":17,"v":4},{"d":27,"t":18,"v":5},{"d":27,"t":19,"v":6},{"d":27,"t":20,"v":5},{"d":27,"t":21,"v":5},{"d":27,"t":22,"v":5},{"d":27,"t":23,"v":4},{"d":27,"t":24,"v":4},{"d":27,"t":25,"v":4},{"d":27,"t":26,"v":4},{"d":27,"t":27,"v":4},{"d":27,"t":28,"v":4},{"d":27,"t":29,"v":5},{"d":27,"t":30,"v":5},{"d":27,"t":31,"v":4},{"d":27,"t":32,"v":3},{"d":27,"t":33,"v":1},{"d":27,"t":34,"v":1},{"d":27,"t":35,"v":2},{"d":27,"t":36,"v":1},{"d":27,"t":37,"v":1},{"d":27,"t":38,"v":1},{"d":27,"t":39,"v":1},{"d":27,"t":40,"v":1},{"d":27,"t":41,"v":1},{"d":27,"t":42,"v":1},{"d":27,"t":43,"v":1},{"d":27,"t":44,"v":1},{"d":27,"t":45,"v":1},{"d":27,"t":46,"v":0},{"d":27,"t":47,"v":1}
]},"mark":{"type":"rect","stroke":"#808080","strokeOpacity":0.55,"strokeWidth":1},"encoding":{"x":{"field":"t","type":"ordinal","scale":{"domain":[0,1,2,3,4,5,6,7,8,9,10,11,12,13,14,15,16,17,18,19,20,21,22,23,24,25,26,27,28,29,30,31,32,33,34,35,36,37,38,39,40,41,42,43,44,45,46,47],"paddingInner":0,"paddingOuter":0},"axis":{"orient":"top","title":null,"values":[0,8,16,24,32,40],"labelExpr":"{'0':'00:30','8':'04:30','16':'08:30','24':'12:30','32':'16:30','40':'20:30'}[datum.value]","labelAngle":0,"ticks":false,"domain":false,"labelFontSize":13.5,"labelColor":"#222","labelPadding":5,"labelOffset":-2}},"y":{"field":"d","type":"ordinal","scale":{"domain":[0,1,2,3,4,5,6,7,8,9,10,11,12,13,14,15,16,17,18,19,20,21,22,23,24,25,26,27],"paddingInner":0,"paddingOuter":0},"axis":{"title":null,"values":[0,7,14,21],"labelExpr":"{'0':['Wed','15 Mar'],'7':['Wed','22 Mar'],'14':['Wed','29 Mar'],'21':['Wed','05 Apr']}[datum.value]","bandPosition":0,"domain":false,"tickColor":"#999","tickSize":6,"labelAlign":"left","labelBaseline":"middle","labelPadding":60,"labelFontSize":13.5,"labelColor":"#222","labelLineHeight":17,"labelOffset":-2}},"color":{"field":"v","type":"ordinal","legend":null,"scale":{"domain":[0,1,2,3,4,5,6,7,8,9],"range":["#ccffcc","#a0ffa0","#66ff66","#a6ff33","#ccff29","#ffff19","#ffd61a","#ffaa00","#ff7a00","#ff0000"]}}}},{"data":{"values":[{"frame":1}]},"mark":{"type":"rect","fill":null,"stroke":"#666","strokeWidth":1},"encoding":{}}]}
